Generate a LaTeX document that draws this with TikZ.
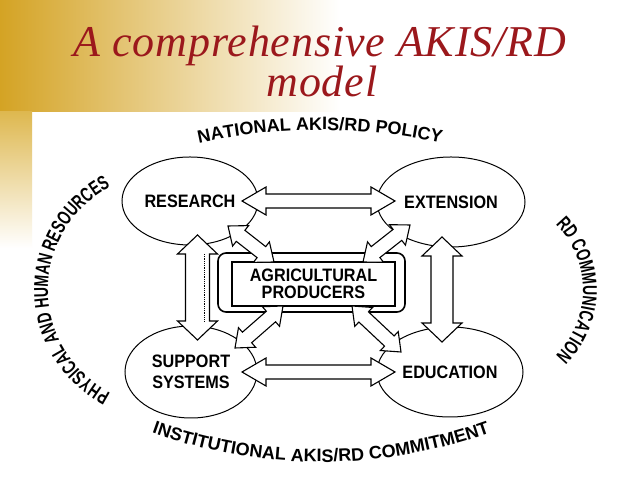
\documentclass[tikz,border=0pt]{standalone}
\usepackage{fontspec}
\usetikzlibrary{shapes.geometric,calc,decorations.text}
\setmainfont{Liberation Serif}
\newfontfamily\titlef[LetterSpace=2]{Liberation Serif}
\newfontfamily\lblf{Liberation Sans}
\newfontfamily\lblnarrow[FakeStretch=0.7]{Liberation Sans}
\newfontfamily\nodef[FakeStretch=0.9]{Liberation Sans}
\definecolor{goldA}{RGB}{212,163,36}
\definecolor{goldB}{RGB}{222,184,80}
\definecolor{titlered}{RGB}{155,24,28}
\newcommand\dblarr[5]{%
  \coordinate (h1) at ($(#1)!#3!(#2)$);
  \coordinate (h2) at ($(#2)!#3!(#1)$);
  \draw[blk] (#1) -- ($(h1)!#4!90:(#2)$) -- ($(h1)!#5!90:(#2)$)
    -- ($(h2)!#5!-90:(#1)$) -- ($(h2)!#4!-90:(#1)$) -- (#2)
    -- ($(h2)!#4!90:(#1)$) -- ($(h2)!#5!90:(#1)$)
    -- ($(h1)!#5!-90:(#2)$) -- ($(h1)!#4!-90:(#2)$) -- cycle;}
\begin{document}
\begin{tikzpicture}[x=1pt,y=1pt,
  ell/.style={draw, ellipse, line width=1pt, inner sep=0pt, align=center,
    font=\nodef\bfseries\fontsize{18}{21}\selectfont},
  blk/.style={draw, fill=white, line width=1.1pt, line join=miter},
  titletext/.style={font=\titlef\itshape\fontsize{44}{44}\selectfont, text=titlered, anchor=base}]
\useasboundingbox (0,0) rectangle (638,478);
% background
\fill[white] (0,0) rectangle (638,478);
\shade[left color=goldA, right color=white] (0,366) rectangle (340,478);
\shade[top color=goldB, bottom color=white] (0,230) rectangle (32,366);
% title
\node[titletext] (t1) at (320,421) {A comprehensive AKIS/RD};
\node[titletext] (t2) at (322,381) {model};
% ellipses
\node[ell, minimum width=136, minimum height=88] (research) at (190,277) {RESEARCH};
\node[ell, minimum width=148, minimum height=90] (extension) at (451,276) {EXTENSION};
\node[ell, minimum width=132, minimum height=92] (support) at (191,106) {SUPPORT\\SYSTEMS};
\node[ell, minimum width=146, minimum height=90] (education) at (450,106) {EDUCATION};
% central box
\node[draw, line width=1.6pt, rounded corners=8pt, fill=white, minimum width=187, minimum height=59, inner sep=0pt] (frame) at (311.5,195.5) {};
\node[draw, line width=1.6pt, fill=white, minimum width=163, minimum height=44, inner sep=0pt, align=center,
  font=\nodef\bfseries\fontsize{18}{16.5}\selectfont] (prod) at (313.5,194) {AGRICULTURAL\\PRODUCERS};
% arrow end points
\coordinate (a1) at (242,277); \coordinate (a2) at (395,277);
\coordinate (b1) at (242,106); \coordinate (b2) at (395,106);
\coordinate (c1) at (197.5,243); \coordinate (c2) at (197.5,138);
\coordinate (d1) at (442,241); \coordinate (d2) at (442,136);
\coordinate (e1) at (228,252); \coordinate (e2) at (274,216);
\coordinate (f1) at (410,253); \coordinate (f2) at (363,216);
\coordinate (g1) at (235,130); \coordinate (g2) at (283,172);
\coordinate (k1) at (401,126); \coordinate (k2) at (352,172);
\dblarr{a1}{a2}{24pt}{14pt}{7pt}
\dblarr{b1}{b2}{24pt}{14pt}{7pt}
\dblarr{c1}{c2}{19pt}{20pt}{12pt}
\dblarr{d1}{d2}{19pt}{20pt}{11pt}
\dblarr{e1}{e2}{16pt}{13pt}{7pt}
\dblarr{f1}{f2}{16pt}{13pt}{7pt}
\dblarr{g1}{g2}{16pt}{13pt}{7pt}
\dblarr{k1}{k2}{16pt}{13pt}{7pt}
\draw[densely dotted, line width=0.8pt] ($(c1)+(7pt,-19pt)$) -- ($(c2)+(7pt,19pt)$);
% curved labels
\coordinate (topc) at (320,-212);
\coordinate (leftc) at (164,188);
\coordinate (rightc) at (491,188);
\coordinate (botc) at (321,521);
\path[decorate, decoration={text along path, text align=center,
  text={|\lblf\bfseries\fontsize{18}{18}\selectfont|NATIONAL AKIS/RD POLICY}}]
  ($(topc)+(106:560pt)$) arc[start angle=106, end angle=74, radius=560pt];
\path[decorate, decoration={text along path, text align=center,
  text={|\lblnarrow\bfseries\fontsize{20}{20}\selectfont|PHYSICAL AND HUMAN RESOURCES}}]
  ($(leftc)+(250:116pt)$) arc[start angle=250, end angle=110, radius=116pt];
\path[decorate, decoration={text along path, text align=center,
  text={|\lblnarrow\bfseries\fontsize{20}{20}\selectfont|RD COMMUNICATION}}]
  ($(rightc)+(60:92pt)$) arc[start angle=60, end angle=-60, radius=92pt];
\path[decorate, decoration={text along path, text align=center,
  text={|\lblf\bfseries\fontsize{18}{18}\selectfont|INSTITUTIONAL AKIS/RD COMMITMENT}}]
  ($(botc)+(248:505pt)$) arc[start angle=248, end angle=292, radius=505pt];
\end{tikzpicture}
\end{document}
